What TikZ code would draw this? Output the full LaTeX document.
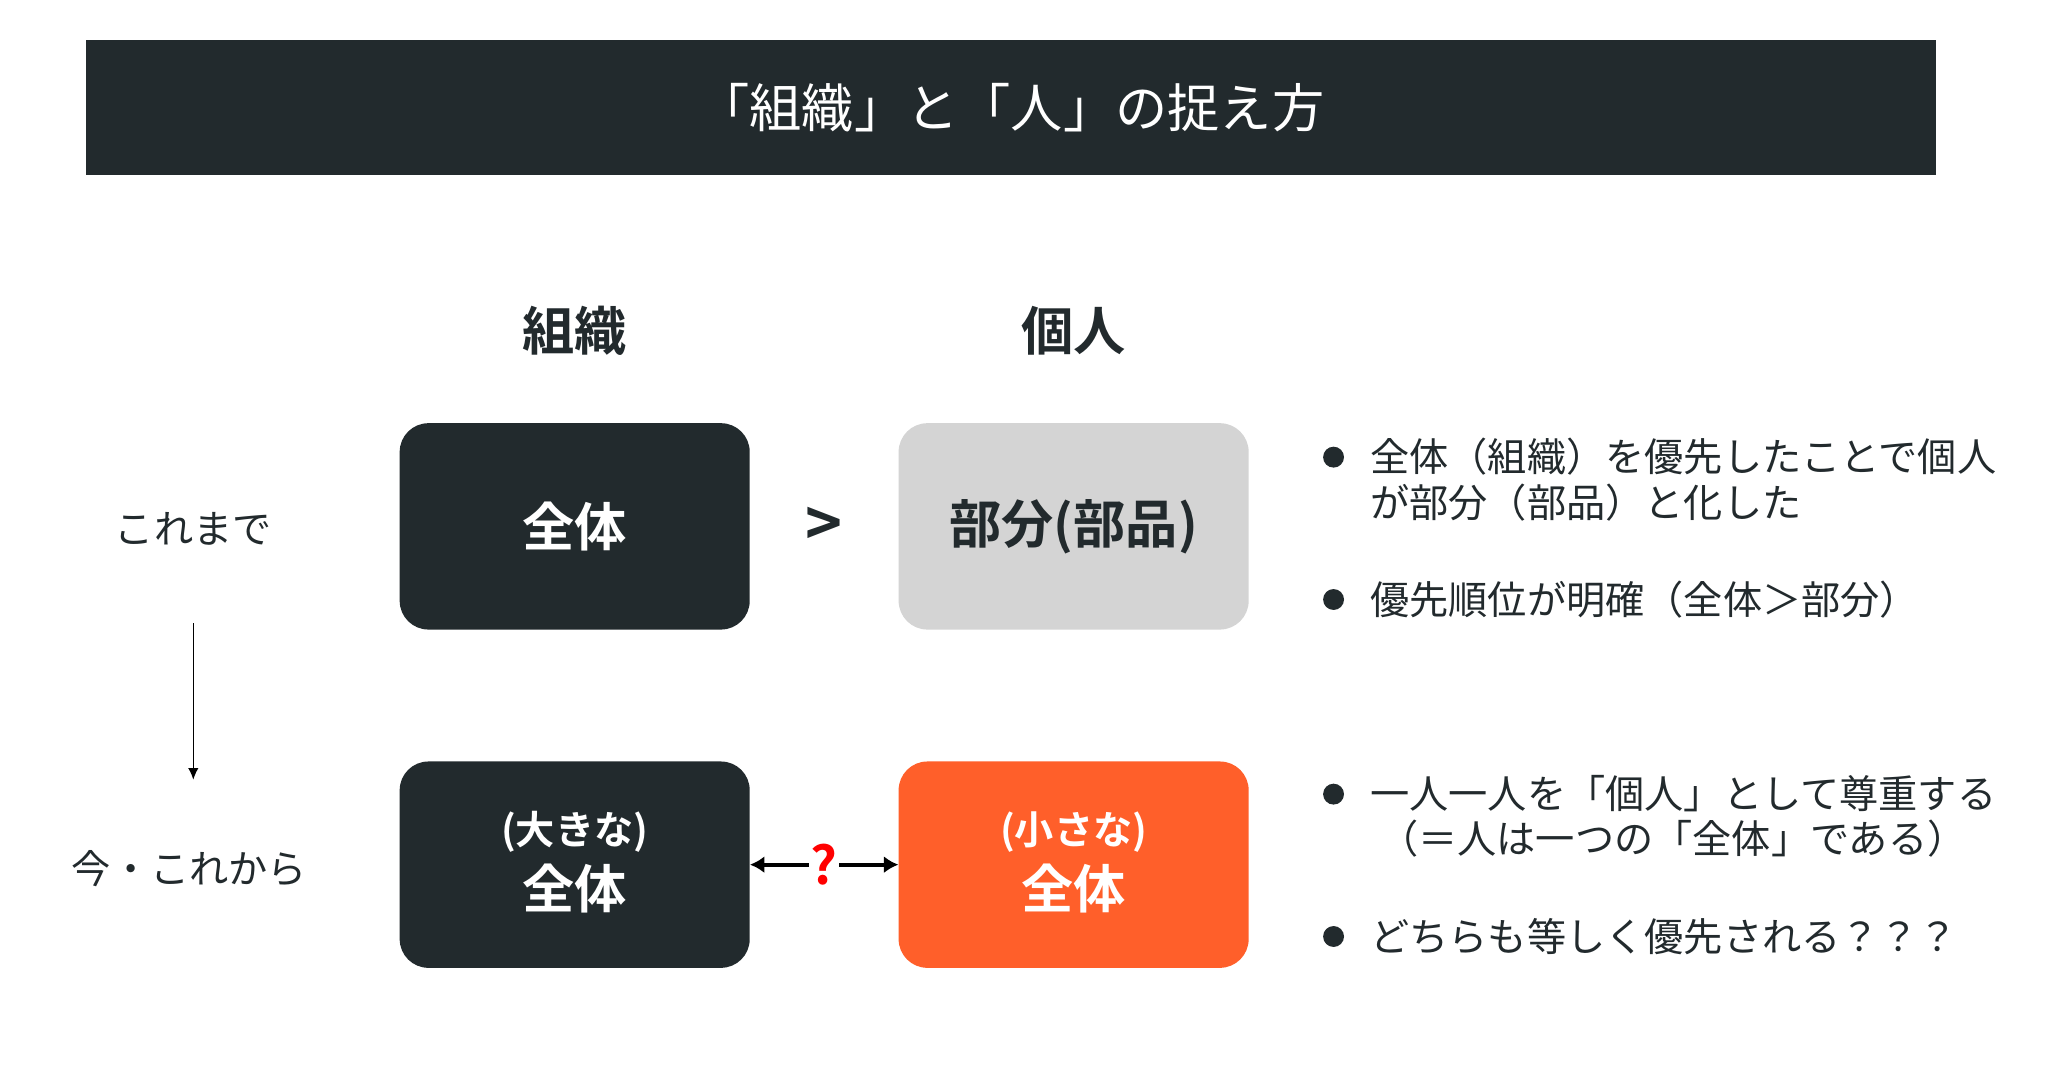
\documentclass[tikz,border=0pt]{standalone}
\usepackage{fontspec}
\usetikzlibrary{arrows.meta}
\setmainfont{Noto Sans CJK JP}
\newfontfamily\jpb{Noto Sans CJK JP Bold}
\definecolor{dk}{HTML}{222A2D}
\definecolor{gr}{HTML}{D4D4D4}
\definecolor{og}{HTML}{FF5F2A}
\begin{document}
\begin{tikzpicture}[x=1pt,y=-1pt,
  box/.style={rounded corners=22pt,minimum width=268pt,minimum height=158pt,inner sep=0pt,align=center},
  bt/.style={font=\jpb\fontsize{40}{44}\selectfont},
  st/.style={font=\jpb\fontsize{30}{32}\selectfont,text=white,inner sep=0pt},
  body/.style={font=\fontsize{30}{35}\selectfont,anchor=west,align=left,inner sep=0pt,text=dk},
  dot/.style={circle,fill=dk,minimum size=16pt,inner sep=0pt}]
\useasboundingbox (0,0) rectangle (1568,824);
\fill[white] (0,0) rectangle (1568,824);
\node[fill=dk,minimum width=1416pt,minimum height=103pt,inner sep=0pt,text=white,font=\fontsize{40}{44}\selectfont] (title) at (774,82.5) {「組織」と「人」の捉え方};
\node[text=dk,bt] (h1) at (440,253) {組織};
\node[text=dk,bt] (h2) at (822,253) {個人};
\node[box,fill=dk,text=white,bt] (a) at (440,403) {全体};
\node[box,fill=gr,text=dk,bt] (b) at (822,403) {部分(部品)};
\node[box,fill=dk] (c) at (440,662) {};
\node[box,fill=og] (d) at (822,662) {};
\node[st] (c1) at (440,637) {(大きな)};
\node[st,bt] (c2) at (440,680) {全体};
\node[st] (d1s) at (822,637) {(小さな)};
\node[st,bt] (d2s) at (822,680) {全体};
\node[text=dk,font=\jpb\fontsize{48}{48}\selectfont] (gt) at (631,403) {>};
\coordinate (m) at (631,662);
\draw[line width=3pt,-{Latex[length=11pt,width=13pt]},black] (m) -- (d.west);
\draw[line width=3pt,-{Latex[length=11pt,width=13pt]},black] (m) -- (c.east);
\node[text=red,font=\jpb\fontsize{40}{40}\selectfont,fill=white,inner sep=1pt] (q) at (m) {?};
\node[text=dk,font=\fontsize{30}{32}\selectfont] (l1) at (148,405) {これまで};
\node[text=dk,font=\fontsize{30}{32}\selectfont] (l2) at (145,665) {今・これから};
\coordinate (s) at (148,477);
\coordinate (e) at (148,597);
\draw[black,line width=1pt,-{Latex[length=9pt,width=8pt]}] (s) -- (e);
\node[dot] (d1) at (1021,350) {};
\node[body] (t1) at (1049,367) {全体（組織）を優先したことで個人\\が部分（部品）と化した};
\node[dot] (d2) at (1021,459) {};
\node[body] (t2) at (1049,459) {優先順位が明確（全体＞部分）};
\node[dot] (d3) at (1021,608) {};
\node[body] (t3) at (1049,625) {一人一人を「個人」として尊重する\\\ （＝人は一つの「全体」である）};
\node[dot] (d4) at (1021,717) {};
\node[body] (t4) at (1049,717) {どちらも等しく優先される？？？};
\end{tikzpicture}
\end{document}
